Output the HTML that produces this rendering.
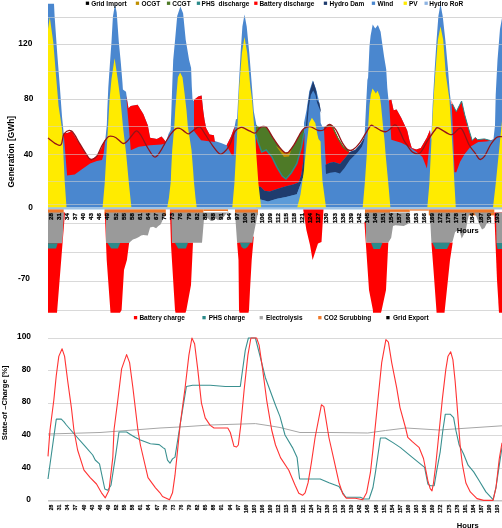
<!DOCTYPE html>
<html><head><meta charset="utf-8"><style>
html,body{margin:0;padding:0;background:#fff;}
body{width:502px;height:528px;overflow:hidden;position:relative;}
svg{position:absolute;left:0;top:0;display:block;will-change:transform;}
text{font-family:"Liberation Sans",sans-serif;font-weight:bold;fill:#000;}
.tk{font-size:6.2px;stroke:#000;stroke-width:0.25px;}
.tb{font-size:5.0px;stroke:#000;stroke-width:0.2px;}
.yl{font-size:8.4px;}
.lg{font-size:6.5px;}
.hr{font-size:7.6px;}
.st{font-size:7.6px;}
</style></head><body>
<svg width="502" height="528" viewBox="0 0 502 528">
<line x1="48" y1="17.5" x2="502" y2="17.5" stroke="#d9d9d9" stroke-width="1"/>
<line x1="48" y1="44.5" x2="502" y2="44.5" stroke="#d9d9d9" stroke-width="1"/>
<line x1="48" y1="71.5" x2="502" y2="71.5" stroke="#d9d9d9" stroke-width="1"/>
<line x1="48" y1="99.5" x2="502" y2="99.5" stroke="#d9d9d9" stroke-width="1"/>
<line x1="48" y1="126.5" x2="502" y2="126.5" stroke="#d9d9d9" stroke-width="1"/>
<line x1="48" y1="154.5" x2="502" y2="154.5" stroke="#d9d9d9" stroke-width="1"/>
<line x1="48" y1="181.5" x2="502" y2="181.5" stroke="#d9d9d9" stroke-width="1"/>
<line x1="48" y1="204.5" x2="502" y2="204.5" stroke="#d9d9d9" stroke-width="1"/>
<line x1="48" y1="223.5" x2="502" y2="223.5" stroke="#d9d9d9" stroke-width="1"/>
<line x1="48" y1="252.5" x2="502" y2="252.5" stroke="#d9d9d9" stroke-width="1"/>
<line x1="48" y1="281.5" x2="502" y2="281.5" stroke="#d9d9d9" stroke-width="1"/>
<line x1="48" y1="310.5" x2="502" y2="310.5" stroke="#d9d9d9" stroke-width="1"/>
<polygon points="48.0,3.7 54.0,3.7 54.6,15.9 57.2,53.0 59.9,87.4 62.0,116.6 63.7,133.6 68.0,132.8 71.7,131.1 74.7,136.2 79.9,143.9 85.0,152.4 89.2,158.4 92.6,158.9 96.9,155.8 101.2,149.0 105.4,138.7 106.8,125.0 107.3,110.0 108.3,87.5 110.0,62.5 111.5,41.7 112.9,16.7 115.0,4.2 116.7,12.5 118.8,41.7 120.8,62.5 122.5,83.3 122.9,89.6 126.0,91.7 126.6,96.0 128.5,108.2 130.8,105.9 137.6,104.8 143.3,113.9 147.8,125.2 150.1,137.7 156.9,138.9 161.5,136.6 163.7,138.9 166.0,142.3 168.5,134.0 170.6,130.0 171.3,113.0 172.2,86.5 173.2,60.0 175.1,39.7 177.2,15.9 180.4,6.6 183.1,13.2 185.7,39.7 189.1,60.0 191.1,68.0 191.8,86.5 192.5,99.0 193.5,101.0 198.2,96.4 201.6,95.5 203.3,111.2 204.5,119.7 206.2,128.2 209.6,134.5 213.9,135.3 214.7,141.0 221.0,143.0 226.6,145.3 230.9,136.8 234.6,126.8 236.0,119.0 237.1,119.2 238.7,87.4 240.6,53.0 242.4,26.5 244.5,14.6 246.7,26.5 249.3,53.0 252.0,87.4 253.8,111.3 257.3,129.8 259.9,127.6 265.3,126.7 268.0,129.4 273.4,138.4 279.7,147.4 285.1,152.8 288.7,151.9 294.1,144.7 299.5,134.8 304.0,128.5 304.0,123.0 306.6,109.8 309.3,91.2 312.7,80.6 315.9,88.6 318.6,99.2 319.9,107.1 320.7,123.0 322.5,127.0 323.9,127.0 329.2,124.4 331.8,125.7 337.1,136.3 342.4,146.9 347.7,150.9 349.1,152.2 355.7,149.6 362.3,141.6 364.5,138.0 366.2,102.7 367.4,80.0 368.1,77.5 369.5,46.3 370.6,35.8 372.7,24.4 375.2,28.5 377.9,25.0 380.6,31.7 382.0,42.0 384.1,56.7 386.2,69.2 387.3,87.9 388.3,98.3 389.0,101.6 391.3,99.5 393.6,110.2 396.6,109.4 401.2,117.7 407.2,130.6 409.5,140.5 411.8,148.0 416.3,149.5 420.8,148.0 426.9,137.4 430.0,130.0 431.3,140.0 432.6,106.0 434.7,68.9 436.6,39.7 438.4,15.9 440.5,4.0 442.7,15.9 445.3,39.7 448.0,68.9 449.8,92.7 451.1,104.0 452.5,104.0 456.3,111.7 461.6,101.0 464.7,114.7 468.5,128.3 472.2,140.5 475.3,137.4 477.5,139.7 484.4,138.9 490.4,140.5 493.5,139.0 495.0,125.3 495.7,95.0 497.5,60.0 500.0,29.0 502.0,18.0 502.0,207.5 48.0,207.5" fill="#4a87cf"/>
<polygon points="63.7,133.6 68.0,132.8 71.7,131.1 74.7,136.2 79.9,143.9 85.0,152.4 89.2,158.4 92.6,158.9 96.9,155.8 101.2,149.0 105.4,138.7 103.5,155.0 102.0,160.0 96.9,160.9 90.1,163.5 81.6,169.4 74.7,174.5 67.1,175.4" fill="#ff0000"/>
<polygon points="126.2,95.7 128.5,108.2 130.8,105.9 137.6,104.8 143.3,113.9 147.8,125.2 150.1,137.7 156.9,138.9 161.5,136.6 163.7,138.9 166.0,142.3 164.9,143.4 161.5,144.5 150.1,145.2 138.7,146.8 130.8,150.2" fill="#ff0000"/>
<polygon points="194.0,99.8 198.2,96.4 201.6,95.5 203.3,111.2 204.5,119.7 206.2,128.2 209.6,134.5 213.9,135.3 214.7,141.0 215.3,141.9 206.7,141.0 201.0,140.2 194.0,131.1" fill="#ff0000"/>
<polygon points="226.6,145.3 230.9,136.8 234.6,126.8 233.8,155.2 231.8,155.2" fill="#ff0000"/>
<polygon points="324.0,127.6 330.0,124.3 332.6,126.3 337.9,137.5 343.2,146.2 348.5,150.8 349.8,152.1 344.5,158.8 339.9,164.1 333.9,162.1 330.0,162.7 326.0,164.7 325.0,150.0 324.0,130.0" fill="#ff0000"/>
<polygon points="389.0,100.3 391.3,99.5 393.6,110.2 396.6,109.4 401.2,117.7 407.2,130.6 409.5,140.5 411.8,148.0 416.3,149.5 420.8,148.0 426.9,137.4 430.0,130.0 430.5,135.0 426.9,168.5 422.4,157.1 416.3,151.8 408.7,146.5 401.2,142.7 391.3,139.7" fill="#ff0000"/>
<polygon points="451.5,100.0 452.5,104.0 456.3,111.7 461.6,101.0 464.7,114.7 468.5,128.3 472.2,140.5 475.3,137.4 477.5,139.7 484.4,138.9 490.4,140.5 493.0,140.5 485.9,141.5 478.3,142.0 470.7,146.5 464.7,154.1 460.1,161.7 456.3,172.3 454.5,172.3 453.3,140.5" fill="#ff0000"/>
<polygon points="256.0,125.0 259.9,127.6 265.3,126.7 268.0,129.4 273.4,138.4 279.7,147.4 285.1,152.8 288.7,151.9 294.1,144.7 299.5,134.8 304.0,128.5 304.0,133.0 301.4,147.4 296.8,163.6 291.4,172.7 286.0,179.0 282.4,176.3 277.0,167.3 271.6,156.4 266.2,150.0 261.7,152.0 258.1,142.0 256.0,135.0" fill="#4e7a27"/>
<polygon points="256.0,135.0 258.1,142.0 261.7,152.0 266.2,150.0 271.6,156.4 277.0,167.3 282.4,176.3 286.0,179.0 291.4,172.7 296.8,163.6 301.4,147.4 304.0,133.0 304.5,135.0 303.2,161.8 301.4,174.5 298.6,182.6 293.2,184.4 286.0,186.2 277.0,188.9 269.8,191.6 264.4,190.7 260.8,187.0 256.0,186.0" fill="#ff0000"/>
<polygon points="256.0,186.0 260.8,187.0 264.4,190.7 269.8,191.6 277.0,188.9 286.0,186.2 293.2,184.4 298.6,182.6 301.4,174.5 303.2,161.8 304.5,135.0 304.0,175.0 299.5,187.0 296.8,194.3 286.0,197.0 277.0,198.8 268.0,201.5 261.7,199.7 256.0,199.0" fill="#1f3c6e"/>
<polygon points="256.0,199.0 261.7,199.7 268.0,201.5 277.0,198.8 286.0,197.0 296.8,194.3 299.5,187.0 304.0,175.0 304.0,207.5 256.0,207.5" fill="#5c9bd8"/>
<polyline points="256.0,135.0 258.1,142.0 261.7,152.0 266.2,150.0 271.6,156.4 277.0,167.3 282.4,176.3 286.0,179.0 291.4,172.7 296.8,163.6 301.4,147.4 304.0,133.0" fill="none" stroke="#2b8a8a" stroke-width="1.5"/>
<polygon points="276,146 285.1,152.8 288.7,151.9 292,148 289,156.5 284,157" fill="#bf8f00"/>
<polygon points="305.8,127.0 307.9,104.6 309.8,91.4 313.2,81.0 316.4,91.4 317.4,100.8 319.3,102.7 320.8,110.3 321.2,113.0 319.6,109.0 317.2,103.0 315.5,95.0 313.2,90.4 310.8,95.0 308.8,107.0 307.2,127.0" fill="#1f3c6e"/>
<polygon points="349.8,152.1 355.1,150.1 360.4,144.2 363.8,138.2 365.1,134.9 365.1,136.2 363.8,141.5 361.8,146.8 357.8,152.1 353.8,156.1 349.8,160.1 344.5,168.0 339.9,173.4 335.2,172.0 330.0,172.7 326.0,174.0 325.5,164.7 330.0,162.7 333.9,162.1 339.9,164.1 344.5,158.8" fill="#1f3c6e"/>
<polyline points="324.5,128.2 330.0,125.1 332.6,127.1 337.9,138.3 343.2,147.0 348.5,151.6" fill="none" stroke="#4e7a27" stroke-width="1.2"/>
<polyline points="452.5,104.0 456.3,111.7 461.6,101.0 464.7,114.7 468.5,128.3 472.2,140.5 475.3,137.4 477.5,139.7 484.4,138.9 490.4,140.5" fill="none" stroke="#2b8a8a" stroke-width="1"/>
<polygon points="48.0,29.0 49.8,17.2 53.3,42.4 55.9,74.2 58.6,106.0 62.2,130.0 63.4,154.2 64.7,181.5 66.5,207.5 48.0,207.5" fill="#ffeb00"/>
<polygon points="102.6,207.5 104.7,183.5 106.4,154.3 108.0,127.1 109.5,100.0 111.5,79.0 114.6,58.3 117.7,79.0 120.5,100.0 123.0,127.1 126.2,154.3 128.9,183.5 131.4,207.5" fill="#ffeb00"/>
<polygon points="167.2,207.5 168.9,198.0 170.8,181.5 171.2,170.0 172.2,150.0 174.3,126.2 175.2,110.3 176.6,93.1 177.9,77.2 180.1,72.6 182.5,77.2 184.5,93.1 186.5,110.3 187.8,126.2 191.5,150.0 193.1,170.0 193.9,181.5 195.5,198.0 196.7,207.5" fill="#ffeb00"/>
<polygon points="232.3,207.5 234.4,183.5 236.0,154.3 237.5,127.1 238.5,100.0 239.2,87.4 241.9,53.0 244.5,37.1 247.2,53.0 250.4,87.4 252.1,100.0 254.2,127.1 256.3,154.3 258.4,183.5 261.2,207.5" fill="#ffeb00"/>
<polygon points="297.2,207.5 300.5,194.5 303.9,170.7 306.6,144.2 309.2,123.0 311.9,117.7 315.3,123.0 317.2,133.6 318.5,138.9 320.6,141.5 321.1,157.4 322.5,181.3 326.0,207.5" fill="#ffeb00"/>
<polygon points="362.7,207.5 364.8,183.3 366.8,154.2 367.4,140.0 368.3,125.0 369.5,105.0 370.8,94.8 372.5,88.5 375.9,93.6 377.6,90.8 379.9,97.0 381.0,105.0 383.1,127.1 384.5,140.0 385.6,154.2 388.3,183.3 390.4,207.5" fill="#ffeb00"/>
<polygon points="427.3,207.5 429.4,183.3 430.8,154.2 432.1,127.1 433.5,100.0 435.2,74.2 437.9,39.7 440.5,26.5 443.2,39.7 445.8,74.2 449.5,100.0 451.2,127.1 452.9,154.2 454.4,183.3 455.8,207.5" fill="#ffeb00"/>
<polygon points="493.0,207.5 495.8,183.0 502.0,121.0 502.0,207.5" fill="#ffeb00"/>
<rect x="48" y="207.5" width="454" height="2" fill="#9dc3e6"/>
<path d="M48.0,138.0 C49.3,139.0 53.8,142.8 56.0,143.9 C58.2,145.0 59.7,146.4 61.1,144.7 C62.5,143.0 62.4,135.9 64.2,133.6 C66.0,131.3 69.1,129.4 71.7,131.1 C74.3,132.8 77.0,139.3 79.9,143.9 C82.8,148.5 87.1,155.9 89.2,158.4 C91.3,160.9 91.3,159.6 92.6,159.2 C93.9,158.8 95.3,158.4 96.9,156.1 C98.5,153.8 100.3,148.6 102.0,145.6 C103.7,142.6 105.7,139.5 107.1,137.9 C108.5,136.3 109.0,136.2 110.5,136.2 C112.0,136.2 114.0,136.5 116.0,137.7 C118.0,138.9 120.9,142.8 122.8,143.4 C124.7,144.0 125.9,142.4 127.4,141.1 C128.9,139.8 130.4,137.2 131.9,135.5 C133.4,133.8 135.0,130.9 136.5,130.9 C138.0,130.9 139.1,132.7 141.0,135.5 C142.9,138.3 145.5,144.4 147.8,148.0 C150.1,151.6 152.5,156.4 154.6,157.0 C156.7,157.6 158.6,153.7 160.3,151.4 C162.0,149.1 163.2,146.2 164.9,143.4 C166.6,140.6 168.7,136.8 170.5,134.3 C172.3,131.8 174.4,129.6 176.0,128.6 C177.6,127.6 178.7,128.1 180.0,128.5 C181.3,128.9 182.6,130.2 184.0,131.1 C185.4,132.0 186.9,133.9 188.3,133.9 C189.7,133.9 190.6,132.3 192.5,131.1 C194.4,129.9 197.5,126.2 199.6,126.8 C201.7,127.4 203.2,131.4 205.3,134.5 C207.4,137.6 210.0,142.1 212.4,145.3 C214.8,148.5 217.6,152.6 219.5,153.8 C221.4,155.0 222.1,153.8 223.8,152.4 C225.5,151.0 227.6,148.9 229.5,145.3 C231.4,141.8 233.3,134.1 235.2,131.1 C237.1,128.1 239.4,127.9 240.9,127.4 C242.4,126.9 242.5,127.6 244.0,128.2 C245.5,128.8 248.1,130.4 250.0,131.2 C251.9,132.0 253.8,133.6 255.4,133.0 C257.1,132.4 258.2,128.7 259.9,127.6 C261.5,126.5 263.9,126.4 265.3,126.7 C266.7,127.0 266.6,127.5 268.0,129.4 C269.4,131.3 271.4,135.4 273.4,138.4 C275.3,141.4 277.8,145.0 279.7,147.4 C281.6,149.8 283.6,152.1 285.1,152.8 C286.6,153.6 287.2,153.2 288.7,151.9 C290.2,150.6 292.3,147.5 294.1,144.7 C295.9,141.8 297.9,137.5 299.5,134.8 C301.1,132.1 302.2,129.8 304.0,128.5 C305.8,127.2 307.6,126.4 310.0,126.7 C312.4,127.0 316.3,130.0 318.6,130.5 C320.9,131.0 322.1,130.7 323.9,129.7 C325.7,128.7 327.2,124.4 329.2,124.4 C331.2,124.4 333.6,126.6 335.8,129.7 C338.0,132.8 340.4,139.6 342.4,142.9 C344.4,146.2 345.9,148.5 347.7,149.6 C349.5,150.7 351.0,150.7 353.0,149.6 C355.0,148.5 357.5,145.8 359.7,142.9 C361.9,140.0 364.4,135.2 366.3,132.3 C368.2,129.4 369.5,126.5 370.8,125.5 C372.1,124.5 372.5,125.8 374.2,126.6 C375.9,127.4 379.0,129.8 381.0,130.6 C383.0,131.4 384.6,132.0 386.1,131.7 C387.6,131.4 388.7,130.0 390.1,128.9 C391.5,127.8 393.4,125.3 394.6,124.9 C395.8,124.5 396.6,125.4 397.5,126.6 C398.4,127.8 399.3,130.1 400.3,132.3 C401.3,134.5 402.6,137.9 403.7,140.0 C404.8,142.1 405.4,142.9 407.0,145.0 C408.6,147.1 410.8,151.1 413.0,152.4 C415.2,153.7 417.5,155.0 420.0,153.0 C422.5,151.0 425.4,144.0 427.9,140.2 C430.4,136.4 433.3,132.1 435.0,130.0 C436.7,128.0 435.8,127.3 438.0,127.9 C440.2,128.5 445.6,132.5 448.0,133.6 C450.4,134.7 450.6,135.3 452.5,134.4 C454.4,133.5 457.6,128.8 459.4,128.3 C461.2,127.8 461.6,128.6 463.2,131.4 C464.8,134.2 467.2,141.3 469.2,145.0 C471.2,148.7 473.5,150.9 475.3,153.3 C477.1,155.7 478.3,158.9 479.8,159.4 C481.3,159.9 482.6,158.8 484.4,156.4 C486.2,154.0 488.4,148.2 490.4,145.0 C492.4,141.8 494.6,138.8 496.5,137.4 C498.4,136.0 501.1,136.8 502.0,136.7" fill="none" stroke="#961418" stroke-width="1.3" stroke-linejoin="round"/>
<line x1="48" y1="17.5" x2="502" y2="17.5" stroke="#d4d4d4" stroke-opacity="0.55" stroke-width="1"/>
<line x1="48" y1="44.5" x2="502" y2="44.5" stroke="#d4d4d4" stroke-opacity="0.55" stroke-width="1"/>
<line x1="48" y1="71.5" x2="502" y2="71.5" stroke="#d4d4d4" stroke-opacity="0.55" stroke-width="1"/>
<line x1="48" y1="99.5" x2="502" y2="99.5" stroke="#d4d4d4" stroke-opacity="0.55" stroke-width="1"/>
<line x1="48" y1="126.5" x2="502" y2="126.5" stroke="#d4d4d4" stroke-opacity="0.55" stroke-width="1"/>
<line x1="48" y1="154.5" x2="502" y2="154.5" stroke="#d4d4d4" stroke-opacity="0.55" stroke-width="1"/>
<line x1="48" y1="181.5" x2="502" y2="181.5" stroke="#d4d4d4" stroke-opacity="0.55" stroke-width="1"/>
<line x1="48" y1="204.5" x2="502" y2="204.5" stroke="#d4d4d4" stroke-opacity="0.55" stroke-width="1"/>
<rect x="48" y="209.4" width="15.700000000000003" height="5.6" fill="#f07828"/>
<rect x="104.5" y="209.4" width="61.30000000000001" height="6.5" fill="#f07828"/>
<rect x="169.9" y="209.4" width="33.5" height="6.2" fill="#f07828"/>
<rect x="203.4" y="209.4" width="24.599999999999994" height="1.6" fill="#f07828"/>
<rect x="235" y="209.4" width="23" height="5.6" fill="#f07828"/>
<rect x="365" y="209.4" width="25" height="5" fill="#f07828"/>
<rect x="390" y="209.4" width="19.80000000000001" height="2.5" fill="#f07828"/>
<rect x="409.8" y="209.4" width="19.0" height="1.2" fill="#f07828"/>
<rect x="428.8" y="209.4" width="65.5" height="6" fill="#f07828"/>
<polygon points="48.0,243.0 62.0,243.0 63.5,212.5 65.0,212.5 57.0,312.8 48.0,312.8" fill="#ff0000"/>
<polygon points="104.8,212.5 106.0,212.5 106.0,243.0 129.1,243.0 126.9,260.0 124.0,270.0 121.6,310.0 120.0,312.8 110.5,312.8 106.7,260.0" fill="#ff0000"/>
<polygon points="170.0,212.5 172.0,212.5 172.0,242.5 193.0,242.5 191.0,285.0 186.4,310.0 185.5,312.8 175.5,312.8 175.0,310.0 171.0,245.0" fill="#ff0000"/>
<polygon points="237.1,242.7 253.8,236.4 251.7,260.0 250.0,290.0 249.0,310.0 248.5,312.8 239.5,312.8 239.0,310.0 238.5,260.0" fill="#ff0000"/>
<polygon points="303.2,209.4 323.5,209.4 321.5,242.0 318.0,243.5 312.6,260.0 310.0,245.0 306.4,230.0" fill="#ff0000"/>
<polygon points="364.4,222.0 366.2,222.0 366.2,242.6 388.3,242.6 386.0,290.0 381.7,310.0 381.0,312.8 373.0,312.8 372.9,310.0 369.0,290.0" fill="#ff0000"/>
<polygon points="431.4,242.6 452.7,242.6 450.0,260.0 444.5,312.8 436.6,312.8 433.5,270.0" fill="#ff0000"/>
<polygon points="494.3,212.5 496.0,212.5 502.0,212.5 502.0,312.8 499.0,312.8 497.0,280.0 495.5,243.0" fill="#ff0000"/>
<polygon points="48.0,212.5 63.8,212.5 63.1,228.9 61.9,243.2 48.0,243.2" fill="#9a9a9a"/>
<polygon points="106.0,212.5 166.0,212.5 165.0,211.7 163.5,217.0 162.0,221.4 160.5,224.4 158.3,225.9 156.1,228.2 153.1,226.7 150.1,227.4 147.8,235.6 143.3,234.9 141.1,235.6 138.9,237.1 135.9,238.6 132.9,239.4 130.6,241.6 129.1,243.1 106.0,243.1" fill="#9a9a9a"/>
<polygon points="171.3,212.5 229.0,212.5 227.8,211.3 226.4,213.4 223.6,216.9 220.8,219.0 218.0,220.3 215.2,218.2 213.1,221.0 211.0,221.0 206.8,217.6 204.0,219.0 202.0,242.7 172.0,242.7" fill="#9a9a9a"/>
<polygon points="235.0,212.5 258.0,212.5 253.1,237.1 252.4,242.7 237.1,242.7" fill="#9a9a9a"/>
<polygon points="365.6,212.5 409.8,212.5 409.8,211.6 408.6,223.5 403.8,225.9 395.4,225.3 393.0,225.9 391.2,237.8 388.3,242.6 366.2,242.6" fill="#9a9a9a"/>
<polygon points="429.8,212.5 494.3,212.5 490.2,213.2 487.0,223.0 484.5,227.9 482.0,229.5 478.8,223.0 476.4,216.4 473.9,212.5 469.0,214.8 467.4,221.3 465.7,231.0 463.8,234.4 461.7,238.5 459.2,229.5 455.1,232.0 452.7,241.0 451.9,242.6 431.4,242.6" fill="#9a9a9a"/>
<polygon points="496.0,212.5 502.0,212.5 502.0,243.0 496.5,243.0" fill="#9a9a9a"/>
<polygon points="48.0,243.2 57.7,243.2 56.0,248.6 48.0,248.6" fill="#2b8a8a"/>
<polygon points="107.5,243.1 120.2,243.1 117.9,248.5 111.2,248.5" fill="#2b8a8a"/>
<polygon points="174.8,242.7 188.0,242.7 185.9,248.5 178.2,248.5" fill="#2b8a8a"/>
<polygon points="239.9,242.7 250.3,242.7 247.5,247.0 245.5,248.4 243.5,248.4 241.5,247.0" fill="#2b8a8a"/>
<polygon points="371.0,242.7 382.5,242.7 380.0,249.0 373.5,249.0" fill="#2b8a8a"/>
<polygon points="432.3,242.6 450.2,242.6 447.0,249.1 435.5,249.1" fill="#2b8a8a"/>
<polygon points="496.5,243.0 502.0,243.0 502.0,249.0 497.5,249.0" fill="#2b8a8a"/>
<text transform="translate(52.6,213.0) rotate(-90)" text-anchor="end" class="tk">28</text>
<text transform="translate(53.1,504.6) rotate(-90)" text-anchor="end" class="tb">28</text>
<text transform="translate(60.7,213.0) rotate(-90)" text-anchor="end" class="tk">31</text>
<text transform="translate(61.2,504.6) rotate(-90)" text-anchor="end" class="tb">31</text>
<text transform="translate(68.8,213.0) rotate(-90)" text-anchor="end" class="tk">34</text>
<text transform="translate(69.3,504.6) rotate(-90)" text-anchor="end" class="tb">34</text>
<text transform="translate(76.9,213.0) rotate(-90)" text-anchor="end" class="tk">37</text>
<text transform="translate(77.4,504.6) rotate(-90)" text-anchor="end" class="tb">37</text>
<text transform="translate(85.0,213.0) rotate(-90)" text-anchor="end" class="tk">40</text>
<text transform="translate(85.5,504.6) rotate(-90)" text-anchor="end" class="tb">40</text>
<text transform="translate(93.2,213.0) rotate(-90)" text-anchor="end" class="tk">43</text>
<text transform="translate(93.7,504.6) rotate(-90)" text-anchor="end" class="tb">43</text>
<text transform="translate(101.3,213.0) rotate(-90)" text-anchor="end" class="tk">46</text>
<text transform="translate(101.8,504.6) rotate(-90)" text-anchor="end" class="tb">46</text>
<text transform="translate(109.4,213.0) rotate(-90)" text-anchor="end" class="tk">49</text>
<text transform="translate(109.9,504.6) rotate(-90)" text-anchor="end" class="tb">49</text>
<text transform="translate(117.5,213.0) rotate(-90)" text-anchor="end" class="tk">52</text>
<text transform="translate(118.0,504.6) rotate(-90)" text-anchor="end" class="tb">52</text>
<text transform="translate(125.6,213.0) rotate(-90)" text-anchor="end" class="tk">55</text>
<text transform="translate(126.1,504.6) rotate(-90)" text-anchor="end" class="tb">55</text>
<text transform="translate(133.7,213.0) rotate(-90)" text-anchor="end" class="tk">58</text>
<text transform="translate(134.2,504.6) rotate(-90)" text-anchor="end" class="tb">58</text>
<text transform="translate(141.8,213.0) rotate(-90)" text-anchor="end" class="tk">61</text>
<text transform="translate(142.3,504.6) rotate(-90)" text-anchor="end" class="tb">61</text>
<text transform="translate(149.9,213.0) rotate(-90)" text-anchor="end" class="tk">64</text>
<text transform="translate(150.4,504.6) rotate(-90)" text-anchor="end" class="tb">64</text>
<text transform="translate(158.0,213.0) rotate(-90)" text-anchor="end" class="tk">67</text>
<text transform="translate(158.5,504.6) rotate(-90)" text-anchor="end" class="tb">67</text>
<text transform="translate(166.2,213.0) rotate(-90)" text-anchor="end" class="tk">70</text>
<text transform="translate(166.7,504.6) rotate(-90)" text-anchor="end" class="tb">70</text>
<text transform="translate(174.3,213.0) rotate(-90)" text-anchor="end" class="tk">73</text>
<text transform="translate(174.8,504.6) rotate(-90)" text-anchor="end" class="tb">73</text>
<text transform="translate(182.4,213.0) rotate(-90)" text-anchor="end" class="tk">76</text>
<text transform="translate(182.9,504.6) rotate(-90)" text-anchor="end" class="tb">76</text>
<text transform="translate(190.5,213.0) rotate(-90)" text-anchor="end" class="tk">79</text>
<text transform="translate(191.0,504.6) rotate(-90)" text-anchor="end" class="tb">79</text>
<text transform="translate(198.6,213.0) rotate(-90)" text-anchor="end" class="tk">82</text>
<text transform="translate(199.1,504.6) rotate(-90)" text-anchor="end" class="tb">82</text>
<text transform="translate(206.7,213.0) rotate(-90)" text-anchor="end" class="tk">85</text>
<text transform="translate(207.2,504.6) rotate(-90)" text-anchor="end" class="tb">85</text>
<text transform="translate(214.8,213.0) rotate(-90)" text-anchor="end" class="tk">88</text>
<text transform="translate(215.3,504.6) rotate(-90)" text-anchor="end" class="tb">88</text>
<text transform="translate(222.9,213.0) rotate(-90)" text-anchor="end" class="tk">91</text>
<text transform="translate(223.4,504.6) rotate(-90)" text-anchor="end" class="tb">91</text>
<text transform="translate(231.0,213.0) rotate(-90)" text-anchor="end" class="tk">94</text>
<text transform="translate(231.5,504.6) rotate(-90)" text-anchor="end" class="tb">94</text>
<text transform="translate(239.1,213.0) rotate(-90)" text-anchor="end" class="tk">97</text>
<text transform="translate(239.6,504.6) rotate(-90)" text-anchor="end" class="tb">97</text>
<text transform="translate(247.3,213.0) rotate(-90)" text-anchor="end" class="tk">100</text>
<text transform="translate(247.8,504.6) rotate(-90)" text-anchor="end" class="tb">100</text>
<text transform="translate(255.4,213.0) rotate(-90)" text-anchor="end" class="tk">103</text>
<text transform="translate(255.9,504.6) rotate(-90)" text-anchor="end" class="tb">103</text>
<text transform="translate(263.5,213.0) rotate(-90)" text-anchor="end" class="tk">106</text>
<text transform="translate(264.0,504.6) rotate(-90)" text-anchor="end" class="tb">106</text>
<text transform="translate(271.6,213.0) rotate(-90)" text-anchor="end" class="tk">109</text>
<text transform="translate(272.1,504.6) rotate(-90)" text-anchor="end" class="tb">109</text>
<text transform="translate(279.7,213.0) rotate(-90)" text-anchor="end" class="tk">112</text>
<text transform="translate(280.2,504.6) rotate(-90)" text-anchor="end" class="tb">112</text>
<text transform="translate(287.8,213.0) rotate(-90)" text-anchor="end" class="tk">115</text>
<text transform="translate(288.3,504.6) rotate(-90)" text-anchor="end" class="tb">115</text>
<text transform="translate(295.9,213.0) rotate(-90)" text-anchor="end" class="tk">118</text>
<text transform="translate(296.4,504.6) rotate(-90)" text-anchor="end" class="tb">118</text>
<text transform="translate(304.0,213.0) rotate(-90)" text-anchor="end" class="tk">121</text>
<text transform="translate(304.5,504.6) rotate(-90)" text-anchor="end" class="tb">121</text>
<text transform="translate(312.1,213.0) rotate(-90)" text-anchor="end" class="tk">124</text>
<text transform="translate(312.6,504.6) rotate(-90)" text-anchor="end" class="tb">124</text>
<text transform="translate(320.3,213.0) rotate(-90)" text-anchor="end" class="tk">127</text>
<text transform="translate(320.8,504.6) rotate(-90)" text-anchor="end" class="tb">127</text>
<text transform="translate(328.4,213.0) rotate(-90)" text-anchor="end" class="tk">130</text>
<text transform="translate(328.9,504.6) rotate(-90)" text-anchor="end" class="tb">130</text>
<text transform="translate(336.5,213.0) rotate(-90)" text-anchor="end" class="tk">133</text>
<text transform="translate(337.0,504.6) rotate(-90)" text-anchor="end" class="tb">133</text>
<text transform="translate(344.6,213.0) rotate(-90)" text-anchor="end" class="tk">136</text>
<text transform="translate(345.1,504.6) rotate(-90)" text-anchor="end" class="tb">136</text>
<text transform="translate(352.7,213.0) rotate(-90)" text-anchor="end" class="tk">139</text>
<text transform="translate(353.2,504.6) rotate(-90)" text-anchor="end" class="tb">139</text>
<text transform="translate(360.8,213.0) rotate(-90)" text-anchor="end" class="tk">142</text>
<text transform="translate(361.3,504.6) rotate(-90)" text-anchor="end" class="tb">142</text>
<text transform="translate(368.9,213.0) rotate(-90)" text-anchor="end" class="tk">145</text>
<text transform="translate(369.4,504.6) rotate(-90)" text-anchor="end" class="tb">145</text>
<text transform="translate(377.0,213.0) rotate(-90)" text-anchor="end" class="tk">148</text>
<text transform="translate(377.5,504.6) rotate(-90)" text-anchor="end" class="tb">148</text>
<text transform="translate(385.1,213.0) rotate(-90)" text-anchor="end" class="tk">151</text>
<text transform="translate(385.6,504.6) rotate(-90)" text-anchor="end" class="tb">151</text>
<text transform="translate(393.3,213.0) rotate(-90)" text-anchor="end" class="tk">154</text>
<text transform="translate(393.8,504.6) rotate(-90)" text-anchor="end" class="tb">154</text>
<text transform="translate(401.4,213.0) rotate(-90)" text-anchor="end" class="tk">157</text>
<text transform="translate(401.9,504.6) rotate(-90)" text-anchor="end" class="tb">157</text>
<text transform="translate(409.5,213.0) rotate(-90)" text-anchor="end" class="tk">160</text>
<text transform="translate(410.0,504.6) rotate(-90)" text-anchor="end" class="tb">160</text>
<text transform="translate(417.6,213.0) rotate(-90)" text-anchor="end" class="tk">163</text>
<text transform="translate(418.1,504.6) rotate(-90)" text-anchor="end" class="tb">163</text>
<text transform="translate(425.7,213.0) rotate(-90)" text-anchor="end" class="tk">166</text>
<text transform="translate(426.2,504.6) rotate(-90)" text-anchor="end" class="tb">166</text>
<text transform="translate(433.8,213.0) rotate(-90)" text-anchor="end" class="tk">169</text>
<text transform="translate(434.3,504.6) rotate(-90)" text-anchor="end" class="tb">169</text>
<text transform="translate(441.9,213.0) rotate(-90)" text-anchor="end" class="tk">172</text>
<text transform="translate(442.4,504.6) rotate(-90)" text-anchor="end" class="tb">172</text>
<text transform="translate(450.0,213.0) rotate(-90)" text-anchor="end" class="tk">175</text>
<text transform="translate(450.5,504.6) rotate(-90)" text-anchor="end" class="tb">175</text>
<text transform="translate(458.1,213.0) rotate(-90)" text-anchor="end" class="tk">178</text>
<text transform="translate(458.6,504.6) rotate(-90)" text-anchor="end" class="tb">178</text>
<text transform="translate(466.3,213.0) rotate(-90)" text-anchor="end" class="tk">181</text>
<text transform="translate(466.8,504.6) rotate(-90)" text-anchor="end" class="tb">181</text>
<text transform="translate(474.4,213.0) rotate(-90)" text-anchor="end" class="tk">184</text>
<text transform="translate(474.9,504.6) rotate(-90)" text-anchor="end" class="tb">184</text>
<text transform="translate(482.5,213.0) rotate(-90)" text-anchor="end" class="tk">187</text>
<text transform="translate(483.0,504.6) rotate(-90)" text-anchor="end" class="tb">187</text>
<text transform="translate(490.6,213.0) rotate(-90)" text-anchor="end" class="tk">190</text>
<text transform="translate(491.1,504.6) rotate(-90)" text-anchor="end" class="tb">190</text>
<text transform="translate(498.7,213.0) rotate(-90)" text-anchor="end" class="tk">193</text>
<text transform="translate(499.2,504.6) rotate(-90)" text-anchor="end" class="tb">193</text>
<text x="32.3" y="46.0" text-anchor="end" class="yl">120</text>
<text x="33.3" y="100.7" text-anchor="end" class="yl">80</text>
<text x="33" y="156.9" text-anchor="end" class="yl">40</text>
<text x="33" y="209.5" text-anchor="end" class="yl">0</text>
<text x="30" y="280.9" text-anchor="end" class="yl">-70</text>
<text transform="translate(14.1,151.7) rotate(-90)" text-anchor="middle" class="yl">Generation [GWh]</text>
<text x="467.8" y="232.7" text-anchor="middle" class="hr">Hours</text>
<rect x="85.8" y="1.6" width="3.3" height="3.3" fill="#000"/>
<text x="91.2" y="5.6" class="lg">Grid Import</text>
<rect x="135.8" y="1.6" width="3.3" height="3.3" fill="#bf8f00"/>
<text x="141.5" y="5.6" class="lg">OCGT</text>
<rect x="166.9" y="1.6" width="3.3" height="3.3" fill="#4e7a27"/>
<text x="172.2" y="5.6" class="lg">CCGT</text>
<rect x="196.8" y="1.6" width="3.3" height="3.3" fill="#2b8a8a"/>
<text x="201.6" y="5.6" class="lg">PHS&#160; discharge</text>
<rect x="254.2" y="1.6" width="3.3" height="3.3" fill="#ff0000"/>
<text x="259.4" y="5.6" class="lg">Battery discharge</text>
<rect x="323.8" y="1.6" width="3.3" height="3.3" fill="#1f3c6e"/>
<text x="329.6" y="5.6" class="lg">Hydro Dam</text>
<rect x="371.8" y="1.6" width="3.3" height="3.3" fill="#4a87cf"/>
<text x="377.4" y="5.6" class="lg">Wind</text>
<rect x="403.6" y="1.6" width="3.3" height="3.3" fill="#ffeb00"/>
<text x="408.9" y="5.6" class="lg">PV</text>
<rect x="424.5" y="1.6" width="3.3" height="3.3" fill="#8db3e2"/>
<text x="429.2" y="5.6" class="lg">Hydro RoR</text>
<rect x="133.9" y="316" width="3.3" height="3.3" fill="#ff0000"/>
<text x="139.4" y="319.6" class="lg">Battery charge</text>
<rect x="202.4" y="316" width="3.3" height="3.3" fill="#2b8a8a"/>
<text x="208.7" y="319.6" class="lg">PHS charge</text>
<rect x="259.6" y="316" width="3.3" height="3.3" fill="#a6a6a6"/>
<text x="266" y="319.6" class="lg">Electrolysis</text>
<rect x="318.2" y="316" width="3.3" height="3.3" fill="#f07828"/>
<text x="324" y="319.6" class="lg">CO2 Scrubbing</text>
<rect x="386.3" y="316" width="3.3" height="3.3" fill="#000"/>
<text x="393" y="319.6" class="lg">Grid Export</text>
<line x1="48" y1="338.5" x2="502" y2="338.5" stroke="#d9d9d9" stroke-width="1"/>
<line x1="48" y1="370.5" x2="502" y2="370.5" stroke="#d9d9d9" stroke-width="1"/>
<line x1="48" y1="403.5" x2="502" y2="403.5" stroke="#d9d9d9" stroke-width="1"/>
<line x1="48" y1="435.5" x2="502" y2="435.5" stroke="#d9d9d9" stroke-width="1"/>
<line x1="48" y1="468.5" x2="502" y2="468.5" stroke="#d9d9d9" stroke-width="1"/>
<line x1="48" y1="500.75" x2="502" y2="500.75" stroke="#c4c4c4" stroke-width="1.5"/>
<text x="31" y="339.4" text-anchor="end" class="yl">100</text>
<text x="31" y="371.9" text-anchor="end" class="yl">80</text>
<text x="31" y="404.29999999999995" text-anchor="end" class="yl">80</text>
<text x="31" y="436.9" text-anchor="end" class="yl">40</text>
<text x="31" y="469.5" text-anchor="end" class="yl">40</text>
<text x="31" y="501.9" text-anchor="end" class="yl">0</text>
<text transform="translate(7.3,402.8) rotate(-90)" text-anchor="middle" class="st">State-of –Charge [%]</text>
<text x="467.8" y="527.5" text-anchor="middle" class="hr">Hours</text>
<polyline points="48.0,434.0 100.0,432.5 160.0,428.0 185.0,426.7 210.0,425.0 255.4,423.6 270.4,425.9 280.0,427.5 300.0,432.5 330.0,432.5 367.8,433.0 385.4,430.5 406.0,428.0 439.0,430.0 502.0,425.8" fill="none" stroke="#a6a6a6" stroke-width="1"/>
<polyline points="48.0,479.0 51.3,455.0 56.3,419.1 61.3,419.1 63.8,421.6 66.4,425.0 75.1,435.0 85.2,446.3 92.7,455.0 95.2,460.0 99.5,463.9 104.8,489.0 107.8,490.3 111.0,485.2 115.3,457.6 119.0,432.0 126.6,432.0 130.4,434.5 135.4,437.5 140.4,440.0 150.4,443.8 159.2,444.6 163.0,447.6 165.0,449.0 167.5,460.1 170.0,463.2 172.5,458.9 175.0,457.1 180.1,425.0 186.4,386.5 192.6,385.2 210.2,385.2 225.3,386.5 240.3,386.5 245.3,350.1 248.4,338.0 255.4,338.0 260.4,357.6 265.4,377.7 275.5,405.3 280.0,416.6 285.0,435.0 292.5,447.6 297.1,457.6 299.6,479.0 320.2,479.0 329.0,482.7 339.0,486.5 342.8,492.8 345.8,497.3 360.3,497.3 364.1,499.0 369.1,499.0 372.9,487.8 375.4,472.7 380.4,438.0 385.4,438.0 393.0,442.6 400.5,447.6 412.3,457.4 424.6,467.4 427.9,484.1 430.2,485.7 434.2,485.7 436.9,469.6 440.2,451.8 442.9,430.0 445.3,414.2 450.2,414.2 453.6,417.6 455.8,430.0 459.2,445.1 463.6,454.0 468.1,465.2 473.7,471.9 479.2,480.8 485.9,491.9 493.1,499.7 496.0,487.5 499.3,465.2 502.0,447.3" fill="none" stroke="#3a9090" stroke-width="1.1" stroke-linejoin="round"/>
<polyline points="48.0,456.4 50.0,430.0 53.8,400.3 56.3,375.2 58.8,356.4 62.1,348.8 64.6,356.4 67.6,380.2 71.4,407.8 73.9,430.0 77.6,450.0 84.0,470.2 90.2,477.7 96.5,484.0 101.5,492.8 105.3,497.8 109.0,490.3 112.8,457.6 114.0,430.0 117.8,400.3 121.6,368.9 126.6,354.6 129.6,362.6 132.9,387.8 137.9,430.0 140.4,445.0 148.0,477.7 155.5,487.8 160.0,492.8 162.5,496.5 169.5,499.8 172.5,492.8 175.0,475.2 177.6,450.1 180.1,425.0 185.1,387.8 188.9,355.1 191.9,338.0 194.6,343.8 197.7,368.9 201.4,402.8 205.2,417.9 210.2,425.4 214.0,428.0 227.8,428.0 230.3,432.5 234.0,446.3 236.6,447.0 238.3,445.0 240.8,425.0 244.1,390.3 247.9,355.1 250.9,338.0 256.6,338.0 259.1,345.1 262.4,367.7 266.7,400.3 271.7,430.0 275.5,445.0 280.5,457.6 288.8,470.2 295.1,485.2 298.8,493.3 302.6,495.3 305.1,492.8 308.1,482.7 311.4,462.7 315.1,437.5 321.4,404.8 323.9,406.6 328.9,437.5 334.0,460.1 339.0,482.7 342.8,494.0 346.5,498.3 355.3,498.3 362.8,499.8 366.6,492.8 370.4,472.7 372.9,450.1 377.9,400.3 381.7,362.6 385.9,339.6 388.4,342.1 391.7,362.6 396.7,387.8 400.0,407.6 405.6,428.0 407.8,437.3 412.3,441.7 419.0,447.3 423.5,458.5 425.7,469.6 427.9,480.8 430.2,488.6 432.0,490.8 433.5,483.0 435.7,465.2 438.0,442.8 442.4,398.6 445.8,369.6 448.0,356.2 450.7,351.8 452.9,359.6 455.1,380.8 456.9,403.1 460.3,447.3 462.5,465.2 465.9,483.0 470.3,491.9 477.0,498.6 483.7,500.4 493.1,500.4 496.0,487.5 499.3,458.5 502.0,442.8" fill="none" stroke="#ff3333" stroke-width="1.1" stroke-linejoin="round"/>
</svg>
</body></html>
